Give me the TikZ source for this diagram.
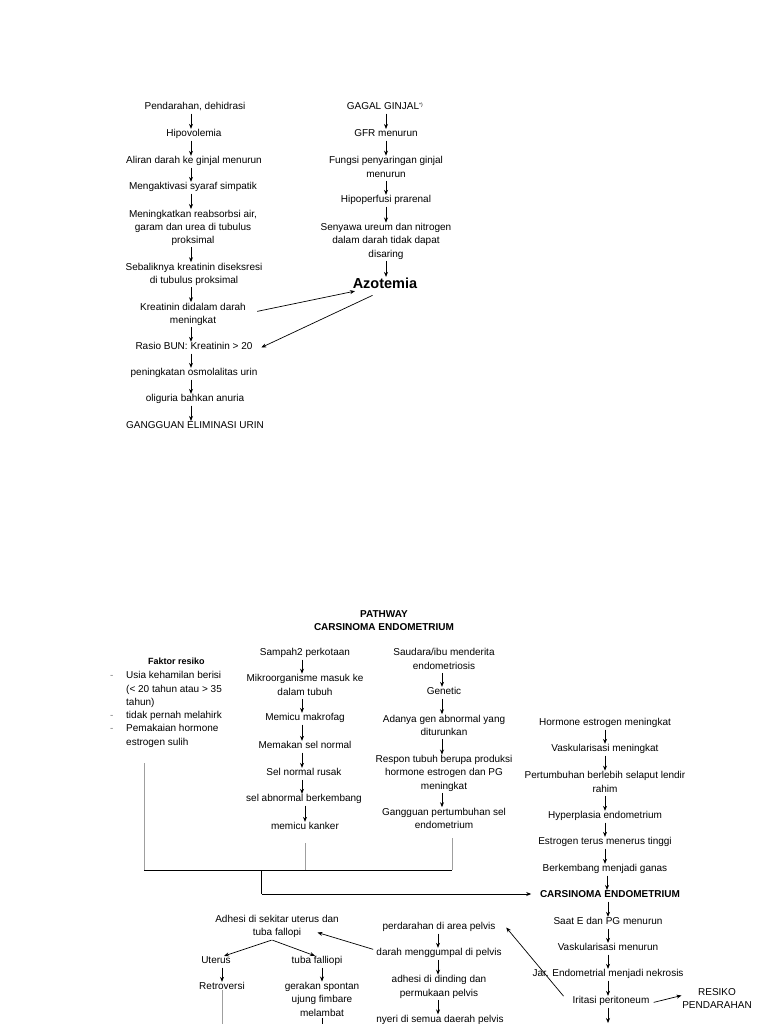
\documentclass[tikz,border=0pt]{standalone}
\usepackage{fontspec}
\setmainfont{Liberation Sans}
\usetikzlibrary{arrows.meta}
\newcommand{\sst}{\rule[-2.5pt]{0pt}{9.5pt}}
\begin{document}
\begin{tikzpicture}[x=1pt,y=-1pt,
  t/.style={font=\fontsize{10}{13.3}\selectfont, align=center, inner sep=0.6pt, yshift=-1.5pt,
    execute at begin node=\sst, execute at end node=\sst},
  tl/.style={font=\fontsize{10}{13.3}\selectfont, anchor=west, inner sep=0pt, yshift=-1.5pt,
    text height=7.3pt, text depth=0pt},
  bt/.style={t, font=\fontsize{10}{13.3}\selectfont\bfseries},
  ar/.style={-{Stealth[length=5pt,width=4pt]}, line width=0.7pt, shorten <=0.5pt},
  gl/.style={draw=gray!75, line width=0.9pt},
  ln/.style={line width=0.8pt}
]
\useasboundingbox (0,0) rectangle (768,1024);
% ---------- top left column ----------
\node[t] (a1) at (195,106) {Pendarahan, dehidrasi};
\node[t] (a2) at (194,133) {Hipovolemia};
\node[t] (a3) at (194,160) {Aliran darah ke ginjal menurun};
\node[t] (a4) at (193,186) {Mengaktivasi syaraf simpatik};
\node[t] (a5) at (193,226.5) {Meningkatkan reabsorbsi air,\\garam dan urea di tubulus\\proksimal};
\node[t] (a6) at (194,273) {Sebaliknya kreatinin diseksresi\\di tubulus proksimal};
\node[t] (a7) at (193,313) {Kreatinin didalam darah\\meningkat};
\node[t] (a8) at (194,346) {Rasio BUN: Kreatinin > 20};
\node[t] (a9) at (194,372) {peningkatan osmolalitas urin};
\node[t] (a10) at (195,398) {oliguria bahkan anuria};
\node[t] (a11) at (195,425) {GANGGUAN ELIMINASI URIN};
\foreach \u/\v in {a1/a2,a2/a3,a3/a4,a4/a5,a5/a6,a6/a7,a7/a8,a8/a9,a9/a10,a10/a11}
  \draw[ar] (\u.south -| 191,0) -- (\v.north -| 191,0);
% ---------- top right column ----------
\node[t] (b1) at (385,106) {GAGAL GINJAL\textsuperscript{\fontsize{5}{5}\selectfont *)}};
\node[t] (b2) at (386,133) {GFR menurun};
\node[t] (b3) at (386,166.5) {Fungsi penyaringan ginjal\\menurun};
\node[t] (b4) at (386,199) {Hipoperfusi prarenal};
\node[t] (b5) at (386,240) {Senyawa ureum dan nitrogen\\dalam darah tidak dapat\\disaring};
\node[font=\fontsize{14.5}{16}\selectfont\bfseries, inner sep=0.6pt, yshift=-1pt] (az) at (385,282) {Azotemia};
\foreach \u/\v in {b1/b2,b2/b3,b3/b4,b4/b5,b5/az}
  \draw[ar] (\u.south -| 386,0) -- (\v.north -| 386,0);
\draw[ar] ([shift={(10,-3)}]a7.east) -- ([shift={(3,2)}]az.south west);
\draw[ar] ([shift={(-12,6)}]az.south) -- ([xshift=8pt]a8.east);
% ---------- pathway title ----------
\node[bt] (ttl) at (384,620) {PATHWAY\\CARSINOMA ENDOMETRIUM};
% ---------- faktor resiko ----------
\node[font=\fontsize{9}{12}\selectfont\bfseries, anchor=west, inner sep=0pt, yshift=-1.5pt] (fr) at (148,660) {Faktor resiko};
\node[tl, text=gray] (fd1) at (110,673) {-};
\node[tl] (f1) at (126,673) {Usia kehamilan berisi};
\node[tl] (f2) at (126,687) {(< 20 tahun atau > 35};
\node[tl] (f3) at (126,700) {tahun)};
\node[tl, text=gray] (fd2) at (110,713) {-};
\node[tl] (f4) at (126,713) {tidak pernah melahirk};
\node[tl, text=gray] (fd3) at (110,726) {-};
\node[tl] (f5) at (126,726) {Pemakaian hormone};
\node[tl] (f6) at (126,740) {estrogen sulih};
% ---------- column 2 ----------
\node[t] (c1) at (305,652) {Sampah2 perkotaan};
\node[t] (c2) at (305,684.5) {Mikroorganisme masuk ke\\dalam tubuh};
\node[t] (c3) at (305,717) {Memicu makrofag};
\node[t] (c4) at (305,745) {Memakan sel normal};
\node[t] (c5) at (304,772) {Sel normal rusak};
\node[t] (c6) at (304,798) {sel abnormal berkembang};
\node[t] (c7) at (305,826) {memicu kanker};
\foreach \u/\v in {c1/c2,c2/c3,c3/c4,c4/c5,c5/c6}
  \draw[ar] (\u.south -| 302,0) -- (\v.north -| 302,0);
\draw[ar] (c6.south -| 305,0) -- (c7.north -| 305,0);
% ---------- column 3 ----------
\node[t] (d1) at (444,658.5) {Saudara/ibu menderita\\endometriosis};
\node[t] (d2) at (444,691) {Genetic};
\node[t] (d3) at (444,725) {Adanya gen abnormal yang\\diturunkan};
\node[t] (d4) at (444,772) {Respon tubuh berupa produksi\\hormone estrogen dan PG\\meningkat};
\node[t] (d5) at (444,818) {Gangguan pertumbuhan sel\\endometrium};
\foreach \u/\v in {d1/d2,d2/d3,d3/d4,d4/d5}
  \draw[ar] (\u.south -| 442,0) -- (\v.north -| 442,0);
% ---------- column 4 ----------
\node[t] (e1) at (605,722) {Hormone estrogen meningkat};
\node[t] (e2) at (605,748) {Vaskularisasi meningkat};
\node[t] (e3) at (605,781.5) {Pertumbuhan berlebih selaput lendir\\rahim};
\node[t] (e4) at (605,815) {Hyperplasia endometrium};
\node[t] (e5) at (605,841) {Estrogen terus menerus tinggi};
\node[t] (e6) at (605,868) {Berkembang menjadi ganas};
\node[bt] (ce) at (610,894) {CARSINOMA ENDOMETRIUM};
\node[t] (e7) at (608,921) {Saat E dan PG menurun};
\node[t] (e8) at (608,947) {Vaskularisasi menurun};
\node[t] (e9) at (608,973) {Jar. Endometrial menjadi nekrosis};
\node[t] (e10) at (611,1000) {Iritasi peritoneum};
\node[t] (rp) at (717,998) {RESIKO\\PENDARAHAN};
\coordinate (eb) at (608,1023);
\foreach \u/\v in {e1/e2,e2/e3,e3/e4,e4/e5,e5/e6}
  \draw[ar] (\u.south -| 605,0) -- (\v.north -| 605,0);
\draw[ar] (e6.south -| 607,0) -- (ce.north -| 607,0);
\foreach \u/\v in {ce/e7,e7/e8,e8/e9,e9/e10}
  \draw[ar] (\u.south -| 608,0) -- (\v.north -| 608,0);
\draw[ar] (e10.south -| 608,0) -- (eb);
\draw[ar] ([shift={(3,1)}]e10.east) -- ([shift={(0,-4)}]rp.west);
% ---------- connectors of the upper part ----------
\coordinate (fk) at (144,763);
\coordinate (fkb) at (144,870);
\coordinate (c7b) at (305,843);
\coordinate (c7j) at (305,870);
\coordinate (d5b) at (452,838);
\coordinate (d5j) at (452,870);
\coordinate (jn) at (261,870);
\coordinate (jd) at (261,894);
\draw[gl] (fk) -- (fkb);
\draw[gl] (c7b) -- (c7j);
\draw[gl] (d5b) -- (d5j);
\draw[ln] (fkb) -- (d5j);
\draw[ln] (jn) -- (jd);
\draw[ar] (jd) -- ([xshift=-8pt]ce.west |- jd);
% ---------- bottom left ----------
\node[t] (g1) at (277,925) {Adhesi di sekitar uterus dan\\tuba fallopi};
\node[t] (g2) at (216,960) {Uterus};
\node[t] (g3) at (317,960) {tuba falliopi};
\node[t] (g4) at (222,986) {Retroversi};
\node[t] (g5) at (322,999) {gerakan spontan\\ujung fimbare\\melambat};
\coordinate (g1s) at (272,940);
\draw[ar] (g1s) -- ([shift={(8,0)}]g2.north);
\draw[ar] (g1s) -- ([shift={(-2,0)}]g3.north);
\draw[ar] (g2.south -| 222,0) -- (g4.north -| 222,0);
\draw[ar] (g3.south -| 322,0) -- (g5.north -| 322,0);
\coordinate (g4b) at (222,1024);
\draw[gl] ([yshift=3pt]g4.south) -- (g4b);
\coordinate (g5b) at (322,1026);
\draw[ln] ([yshift=1pt]g5.south -| 322,0) -- (g5b);
% ---------- bottom middle ----------
\node[t] (h1) at (439,926) {perdarahan di area pelvis};
\node[t] (h2) at (439,952) {darah menggumpal di pelvis};
\node[t] (h3) at (439,985.5) {adhesi di dinding dan\\permukaan pelvis};
\node[t] (h4) at (440,1018.5) {nyeri di semua daerah pelvis};
\foreach \u/\v in {h1/h2,h2/h3,h3/h4}
  \draw[ar] (\u.south -| 438,0) -- (\v.north -| 438,0);
\draw[ar] ([shift={(-2,-4)}]h2.west) -- ([shift={(-22,6)}]g1.east);
\draw[ar] ([shift={(-8,-5)}]e10.west) -- ([shift={(10,0)}]h1.east);
\end{tikzpicture}
\end{document}
